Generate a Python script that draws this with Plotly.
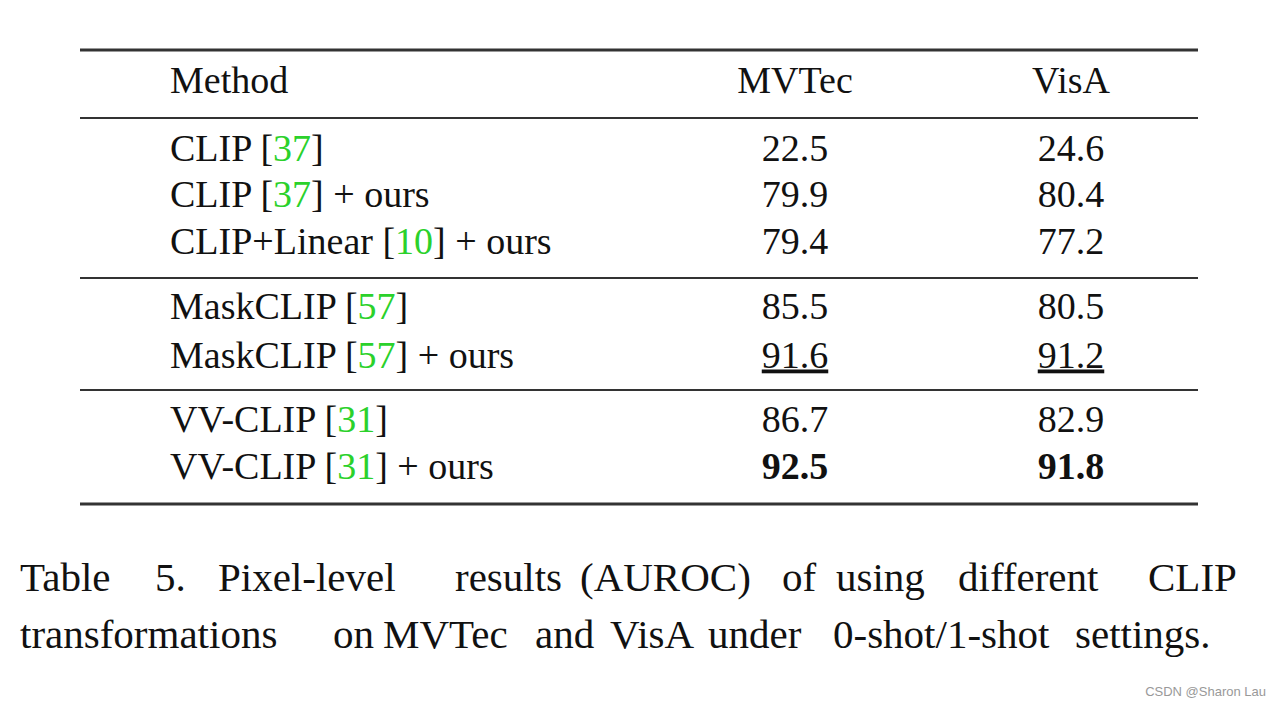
import plotly.graph_objects as go

methods = ["CLIP", "CLIP", "CLIP+Linear", "MaskCLIP", "MaskCLIP", "VV-CLIP", "VV-CLIP"]
cites = ["37", "37", "10", "57", "57", "31", "31"]
suffix = ["", " + ours", " + ours", "", " + ours", "", " + ours"]
mvtec = ["22.5", "79.9", "79.4", "85.5", "91.6", "86.7", "92.5"]
visa = ["24.6", "80.4", "77.2", "80.5", "91.2", "82.9", "91.8"]
style = ["", "", "", "", "u", "", "b"]
headers = ["Method", "MVTec", "VisA"]
caption1 = ["Table", "5.", "Pixel-level", "results", "(AUROC)", "of", "using", "different", "CLIP"]
caption2 = ["transformations", "on", "MVTec", "and", "VisA", "under", "0-shot/1-shot", "settings."]

row_y = [150, 196, 243, 308, 357, 421, 468]
green = "#2bd12b"
# word start positions (justified caption)
cap1_x = [20, 155, 218, 455, 580, 782, 836, 958, 1148]
cap2_x = [20, 333, 383, 535, 610, 708, 833, 1075]

def fmt(v, s):
    if s == "u":
        return "<u>" + v + "</u>"
    if s == "b":
        return "<b>" + v + "</b>"
    return v

method_txt = [f'{m} [<span style="color:{green}">{c}</span>]{s}'
              for m, c, s in zip(methods, cites, suffix)]

font = dict(family="Liberation Serif", size=38, color="#111")
capfont = dict(family="Liberation Serif", size=41, color="#111")
fig = go.Figure()
fig.add_trace(go.Scatter(x=[170] * len(methods), y=row_y, text=method_txt,
                         mode="text", textposition="middle right", textfont=font))
fig.add_trace(go.Scatter(x=[795] * len(mvtec), y=row_y,
                         text=[fmt(v, s) for v, s in zip(mvtec, style)],
                         mode="text", textposition="middle center", textfont=font))
fig.add_trace(go.Scatter(x=[1071] * len(visa), y=row_y,
                         text=[fmt(v, s) for v, s in zip(visa, style)],
                         mode="text", textposition="middle center", textfont=font))
fig.add_trace(go.Scatter(x=[170, 795, 1071], y=[82] * 3, text=headers, mode="text",
                         textposition=["middle right", "middle center", "middle center"],
                         textfont=font))
fig.add_trace(go.Scatter(x=cap1_x, y=[580] * len(cap1_x), text=caption1, mode="text",
                         textposition="middle right", textfont=capfont))
fig.add_trace(go.Scatter(x=cap2_x, y=[637] * len(cap2_x), text=caption2, mode="text",
                         textposition="middle right", textfont=capfont))
fig.add_trace(go.Scatter(x=[1266], y=[692], text=["CSDN @Sharon Lau"], mode="text",
                         textposition="middle left",
                         textfont=dict(family="Liberation Sans", size=13, color="#999")))

for y, w in [(49, 3), (117, 2), (277, 2), (389, 2), (503, 3)]:
    fig.add_shape(type="line", x0=80, x1=1198, y0=y, y1=y, xref="x", yref="y",
                  line=dict(color="#333", width=w))

# ranges offset by the 8px page margin
fig.update_layout(width=1280, height=707, margin=dict(l=0, r=0, t=0, b=0),
                  paper_bgcolor="white", plot_bgcolor="white", showlegend=False,
                  xaxis=dict(range=[8, 1288], visible=False, fixedrange=True),
                  yaxis=dict(range=[714, 7], visible=False, fixedrange=True))
fig.write_html("out.html")
